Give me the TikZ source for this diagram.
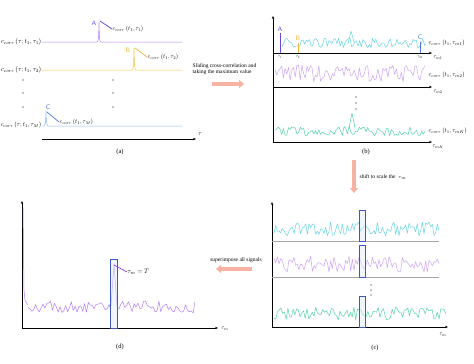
\documentclass[tikz,border=0pt]{standalone}
\usepackage{fontspec}
\usepackage{graphicx}
\setmainfont{Liberation Serif}
\usetikzlibrary{arrows.meta}
\definecolor{cpurple}{HTML}{B47CF2}
\definecolor{corange}{HTML}{F2C443}
\definecolor{cblue}{HTML}{8FB8F2}
\definecolor{ccyan}{HTML}{66D4E4}
\definecolor{cgreen}{HTML}{55D4A4}
\definecolor{lA}{HTML}{6A48DC}
\definecolor{lB}{HTML}{F0B43A}
\definecolor{lC}{HTML}{4A74D4}
\definecolor{salmon}{HTML}{F6B2A2}
\definecolor{rectblue}{HTML}{3F56C8}
\newcommand{\sm}[2]{\scalebox{#1}{#2}}
\tikzset{
  lbl/.style={inner sep=0.5pt, font=\fontsize{5.5}{6}\selectfont},
  mth/.style={inner sep=0.5pt},
  captxt/.style={inner sep=0.5pt, font=\fontsize{6.5}{7}\selectfont},
  axis/.style={black, line width=0.6pt, -{Stealth[length=3pt,width=2.4pt]}},
  bigarrow/.style={salmon, line width=4pt, -{Triangle[length=5pt,width=8pt]}},
  sig/.style={line width=0.5pt, line join=round},
  box/.style={draw=rectblue, line width=0.8pt, fill=cblue!25, fill opacity=0.5},
  dotn/.style={circle, fill=black, inner sep=0pt, minimum size=1.3pt},
  letter/.style={inner sep=0.5pt, font=\fontsize{6.5}{7}\sffamily},
}
\begin{document}
\begin{tikzpicture}[x=1pt,y=-1pt]
\useasboundingbox (0,0) rectangle (474,364);
\pgfmathsetseed{7}
% ---------------- panel (a)
\draw[sig, cpurple] (42,42) -- (97,42) .. controls (98.5,41) .. (99,22) .. controls (99.5,41) .. (101,42) -- (182,42);
\draw[sig, corange] (42,70) -- (132,70) .. controls (133.5,69) .. (134,48) .. controls (134.5,69) .. (136,70) -- (182,70);
\draw[sig, cblue] (42,126) -- (44,126) .. controls (45.5,125) .. (46,111) .. controls (46.5,125) .. (48,126) -- (182,126);
\node[mth, anchor=east] (la1) at (42,42) {\sm{0.66}{$c_{corr}\left(\tau;t_1,\tau_1\right)$}};
\node[mth, anchor=east] (la2) at (42,70) {\sm{0.66}{$c_{corr}\left(\tau;t_1,\tau_2\right)$}};
\node[mth, anchor=east] (la3) at (42,125) {\sm{0.62}{$c_{corr}\left(\tau;t_1,\tau_M\right)$}};
\node[letter, text=lA] (A) at (94,23) {A};
\node[letter, text=lB] (B) at (128,50) {B};
\node[letter, text=lC] (C) at (48,107) {C};
\coordinate (pA) at (100,21);
\coordinate (pB) at (135,48);
\coordinate (pC) at (47,112);
\node[mth, anchor=west] (vA) at (112,29) {\sm{0.6}{$c_{corr}\left(t_1,\tau_1\right)$}};
\node[mth, anchor=west] (vB) at (147,57) {\sm{0.6}{$c_{corr}\left(t_1,\tau_2\right)$}};
\node[mth, anchor=west] (vC) at (59,122) {\sm{0.6}{$c_{corr}\left(t_1,\tau_M\right)$}};
\draw[lA, line width=0.7pt] (pA) -- (vA.west);
\draw[lB, line width=0.7pt] (pB) -- (vB.west);
\draw[lC, line width=0.7pt] (pC) -- (vC.west);
\foreach \yy in {80,93,107} {
  \node[dotn] (dl\yy) at (23,\yy) {};
  \node[dotn] (dr\yy) at (113,\yy) {};
}
\coordinate (ax0) at (42,139);
\coordinate (ax1) at (196,139);
\draw[axis] (ax0) -- (ax1);
\node[mth] (tau) at (200,134) {\sm{0.6}{$\tau$}};
\node[captxt] (capa) at (120,152) {(a)};
% arrow a -> b
\node[lbl, align=left, anchor=west] (txt1) at (192,69.5) {Sliding cross-correlation and\\taking the maximum value};
\coordinate (s1) at (212,84);
\coordinate (e1) at (244,84);
\draw[bigarrow] (s1) -- (e1);
% ---------------- panel (b)
\coordinate (by0) at (273,142);
\coordinate (by1) at (273,16);
\draw[axis] (by0) -- (by1);
% row 1
\draw[sig, ccyan] plot[domain=282:426, samples=90] (\x, {48 - 10*rnd});
\draw[sig, ccyan] (348,44) -- (351,31) -- (354,42);
\coordinate (b1a) at (273,53); \coordinate (b1b) at (432,53);
\draw[axis] (b1a) -- (b1b);
\draw[lA, line width=0.8pt] (280,53) -- (280,33);
\draw[lB, line width=0.8pt] (298,53) -- (298,43);
\draw[lC, line width=0.8pt] (420,53) -- (420,42);
\node[letter, text=lA] (bA) at (280,29) {A};
\node[letter, text=lB] (bB) at (298,38.5) {B};
\node[letter, text=lC] (bC) at (420,37.5) {C};
\node[mth] (t1) at (280,57) {\sm{0.4}{$\tau_1$}};
\node[mth] (t2) at (298,57) {\sm{0.4}{$\tau_2$}};
\node[mth] (tM) at (420,57) {\sm{0.4}{$\tau_M$}};
\node[mth, anchor=west] (r1) at (428,43) {\sm{0.62}{$c_{corr}\left(t_1,\tau_{m1}\right)$}};
\node[mth] (m1) at (438,58) {\sm{0.55}{$\tau_{m1}$}};
% row 2
\draw[sig, cpurple!70] plot[domain=275:425, samples=90] (\x, {82 - 17*rnd});
\coordinate (b2a) at (273,87); \coordinate (b2b) at (432,87);
\draw[axis] (b2a) -- (b2b);
\node[mth, anchor=west] (r2) at (428,75) {\sm{0.62}{$c_{corr}\left(t_1,\tau_{m2}\right)$}};
\node[mth] (m2) at (438,92) {\sm{0.55}{$\tau_{m2}$}};
\foreach \yy in {97,103,109} { \node[dotn] (bd\yy) at (356,\yy) {}; }
% row 3
\draw[sig, cgreen] plot[domain=275:425, samples=90] (\x, {136 - 10*rnd});
\draw[sig, cgreen] (349,128) -- (352,113) -- (355,128);
\coordinate (b3a) at (273,142); \coordinate (b3b) at (432,142);
\draw[axis] (b3a) -- (b3b);
\node[mth, anchor=west] (r3) at (428,131) {\sm{0.62}{$c_{corr}\left(t_1,\tau_{mK}\right)$}};
\node[mth] (m3) at (438,147) {\sm{0.55}{$\tau_{mK}$}};
\node[captxt] (capb) at (366,152) {(b)};
% arrow b -> c
\coordinate (s2) at (354,160);
\coordinate (e2) at (354,193);
\draw[bigarrow] (s2) -- (e2);
\node[lbl, anchor=west] (txt2) at (359,177) {shift to scale the \ \sm{0.8}{$\tau_m$}};
% ---------------- panel (c)
\coordinate (cy0) at (272,327);
\coordinate (cy1) at (272,202);
\draw[axis] (cy0) -- (cy1);
\coordinate (cx1) at (448,327);
\draw[axis] (cy0) -- (cx1);
\node[mth] (cm) at (443,335) {\sm{0.55}{$\tau_m$}};
\draw[sig, ccyan] plot[domain=274:439, samples=100] (\x, {236 - 14*rnd});
\draw[gray!70, line width=0.5pt] (272,241) -- (439,241);
\draw[sig, cpurple!70] plot[domain=274:439, samples=100] (\x, {272 - 16*rnd});
\draw[gray!70, line width=0.5pt] (272,277) -- (439,277);
\draw[sig, cgreen] plot[domain=274:446, samples=100] (\x, {320 - 13*rnd});
\draw[box] (359,210) rectangle (365,241);
\draw[box] (359,245) rectangle (365,277);
\draw[box] (359,296) rectangle (365,327);
\foreach \yy in {285,290,295} { \node[dotn] (cd\yy) at (371,\yy) {}; }
\node[captxt] (capc) at (375,348) {(c)};
% arrow c -> d
\node[lbl] (txt3) at (236,260) {superimpose all signals};
\coordinate (s3) at (252,269);
\coordinate (e3) at (216,269);
\draw[bigarrow] (s3) -- (e3);
% ---------------- panel (d)
\coordinate (dy0) at (22,328);
\coordinate (dy1) at (22,201);
\draw[axis] (dy0) -- (dy1);
\coordinate (dx1) at (218,328);
\draw[axis] (dy0) -- (dx1);
\node[mth] (dm) at (225,329) {\sm{0.55}{$\tau_m$}};
\draw[sig, cpurple] (23,208) -- (24,290) .. controls (25,302) .. (28,305);
\draw[sig, cpurple] plot[domain=28:111, samples=45] (\x, {313 - 12*rnd});
\draw[sig, cpurple] (111,306) -- (114,264) -- (117,306);
\draw[sig, cpurple] plot[domain=117:195, samples=42] (\x, {313 - 12*rnd});
\draw[box] (110,259) rectangle (117,328);
\coordinate (pT) at (114,265);
\node[mth, anchor=west] (lT) at (127,272) {\sm{0.65}{$\tau_m=T$}};
\draw[lA!80!magenta, line width=0.7pt] (pT) -- (lT.west);
\node[captxt] (capd) at (120,347) {(d)};
\end{tikzpicture}
\end{document}
